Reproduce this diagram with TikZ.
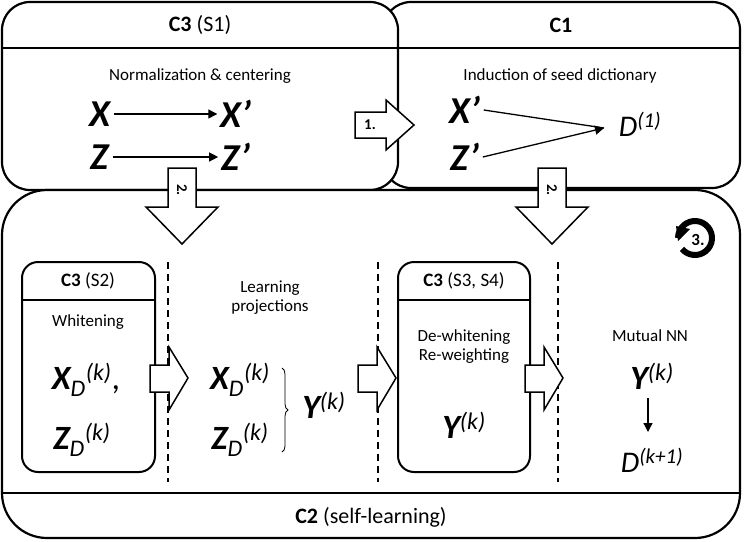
\documentclass[tikz,border=0pt]{standalone}
\usepackage{fontspec}
\setmainfont{Carlito}
\usetikzlibrary{arrows.meta,decorations.pathreplacing}
\newcommand{\myxd}[1]{{\bfseries\itshape #1}\textsubscript{\itshape D}\textsuperscript{\itshape (k)}}
\newcommand{\myyk}{{\bfseries\itshape Y}\textsuperscript{\itshape (k)}}
\begin{document}
\begin{tikzpicture}[x=1pt,y=-1pt,
  box/.style={draw,line width=2.2pt,fill=white,rounded corners=28pt},
  ibox/.style={draw,line width=2pt,fill=white,rounded corners=16pt},
  hdr/.style={font=\fontsize{22}{24}\selectfont},
  lbl/.style={font=\fontsize{17}{19}\selectfont,align=center},
  big/.style={font=\fontsize{38}{40}\selectfont\bfseries\itshape},
  mid/.style={font=\fontsize{30}{32}\selectfont\itshape},
  sym/.style={font=\fontsize{34}{36}\selectfont},
  dashln/.style={line width=1.3pt,dash pattern=on 7pt off 5pt},
  blk/.style={draw,line width=1.5pt,fill=white,line join=miter}]
\useasboundingbox (0,0) rectangle (744,541);
% top right box
\draw[box] (383,2) rectangle (740,188);
\draw[line width=2pt] (383,48) -- (740,48);
\node[hdr] (c1) at (561,25) {\textbf{C1}};
% top left box
\draw[box] (2,2) rectangle (398,190);
\draw[line width=2pt] (2,48) -- (398,48);
\node[hdr] (c3a) at (200,25) {\textbf{C3} (S1)};
% bottom box
\draw[box,rounded corners=45pt] (2,190) rectangle (740,538);
\draw[line width=2pt] (2,493) -- (740,493);
\node[hdr] (c2) at (371,517) {\textbf{C2} (self-learning)};
% arrow 1
\draw[blk] (355,112) -- (386,112) -- (386,100) -- (414,125) -- (386,150) -- (386,138) -- (355,138) -- cycle;
\node[font=\fontsize{15}{16}\selectfont\bfseries] (n1) at (370,125) {1.};
% arrows 2
\foreach \cx/\nm in {182/da,552/db}{
 \draw[blk] (\cx-14,168) -- (\cx+14,168) -- (\cx+14,207) -- (\cx+36,207) -- (\cx,244) -- (\cx-36,207) -- (\cx-14,207) -- cycle;
 \node[font=\fontsize{15}{16}\selectfont\bfseries,rotate=-90] (\nm) at (\cx,190) {2.};
}
% top left content
\node[lbl] (norm) at (200,76) {Normalization \& centering};
\node[big] (x) at (100,114) {X};
\node[big] (xp) at (236,114) {X'};
\node[big] (z) at (100,157) {Z};
\node[big] (zp) at (236,157) {Z'};
\draw[-{Triangle[length=9pt,width=9pt]},line width=1.3pt] (x) -- (xp);
\draw[-{Triangle[length=9pt,width=9pt]},line width=1.3pt] (z) -- (zp);
% top right content
\node[lbl] (ind) at (560,76) {Induction of seed dictionary};
\node[big] (x2) at (465,110) {X'};
\node[big] (z2) at (465,157) {Z'};
\node[mid] (d1) at (640,124) {D\textsuperscript{(1)}};
\coordinate (tip) at (604,128);
\draw[line width=1.3pt] (x2.east) -- (tip);
\draw[-{Triangle[length=9pt,width=9pt]},line width=1.3pt] (z2.east) -- (tip);
% dashed lines
\draw[dashln] (168,262) -- (168,482);
\draw[dashln] (378,262) -- (378,482);
\draw[dashln] (558,262) -- (558,482);
% inner boxes
\draw[ibox] (22,262) rectangle (155,472);
\draw[line width=2pt] (22,300) -- (155,300);
\node[font=\fontsize{19}{20}\selectfont] (c3b) at (88,281) {\textbf{C3} (S2)};
\draw[ibox] (398,262) rectangle (530,472);
\draw[line width=2pt] (398,300) -- (530,300);
\node[font=\fontsize{19}{20}\selectfont] (c3c) at (464,281) {\textbf{C3} (S3, S4)};
% horizontal block arrows
\foreach \xa in {150,358,525}{
 \draw[blk] (\xa,365) -- (\xa+19,365) -- (\xa+19,347) -- (\xa+38,378) -- (\xa+19,410) -- (\xa+19,392) -- (\xa,392) -- cycle;
}
% S2 content
\node[lbl] (wh) at (88,322) {Whitening};
\node[sym] (xd) at (86,380) {\myxd{X},};
\node[sym] (zd) at (82,440) {\myxd{Z}};
% learning projections
\node[lbl] (lp) at (270,298) {Learning\\projections};
\node[sym] (xd2) at (240,380) {\myxd{X}};
\node[sym] (zd2) at (240,440) {\myxd{Z}};
\draw[line width=0.8pt,decorate,decoration={brace,amplitude=6pt}] (282,368) -- (282,452);
\node[sym] (y1) at (324,405) {\myyk};
% S3 S4 content
\node[lbl] (dw) at (464,347) {De-whitening\\Re-weighting};
\node[sym] (y2) at (464,425) {\myyk};
% mutual NN
\node[lbl] (mnn) at (650,336) {Mutual NN};
\node[sym] (y3) at (652,376) {\myyk};
\node[mid] (dk) at (652,460) {D\textsuperscript{(k+1)}};
\draw[-{Triangle[length=9pt,width=9pt]},line width=1.3pt] (648,398) -- (648,432);
% cycle icon
\draw[line width=6pt] (695,238) ++(140:17) arc[start angle=140,end angle=-180,radius=17];
\fill (676,226) -- (690,229) -- (678,241) -- cycle;
\node[font=\fontsize{17}{18}\selectfont\bfseries] (n3) at (698,240) {3.};
\end{tikzpicture}
\end{document}
